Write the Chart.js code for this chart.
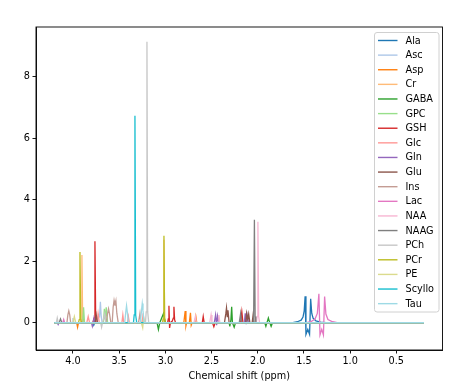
<!DOCTYPE html>
<html>
<head>
<meta charset="utf-8">
<script src="https://cdn.jsdelivr.net/npm/chart.js@4.4.1/dist/chart.umd.min.js"></script>
<style>
html,body{margin:0;padding:0;background:#fff;}
#wrap{width:474px;height:387px;}
</style>
</head>
<body>
<div id="wrap"><canvas id="c" width="474" height="387"></canvas></div>
<script>
// ---- data: [ppm, intensity] ----
const names = ['Ala','Asc','Asp','Cr','GABA','GPC','GSH','Glc','Gln','Glu','Ins','Lac','NAA','NAAG','PCh','PCr','PE','Scyllo','Tau'];
const xTicks = [0.5,1.0,1.5,2.0,2.5,3.0,3.5,4.0];
const yTicks = [0,2,4,6,8];

const Ala = [[4.2,0],[3.785,0],[3.775,-0.08],[3.765,0],[1.62,0],[1.57,0.03],[1.53,0.08],[1.51,0.18],[1.497,0.38],[1.487,0.86],[1.478,-0.38],[1.458,-0.22],[1.439,-0.38],[1.427,0.78],[1.415,0.3],[1.40,0.14],[1.37,0.06],[1.32,0.02],[1.26,0],[0.2,0]];
const Asc = [[4.2,0],[4.01,0],[4.0,0.15],[3.99,0],[3.735,0],[3.722,0.25],[3.712,0.2],[3.703,0.68],[3.695,0.25],[3.685,0],[0.2,0]];
const Asp = [[4.2,0],[3.96,0],[3.95,-0.15],[3.94,0],[3.90,0],[3.89,0.2],[3.88,0],[2.80,0],[2.785,0.38],[2.777,-0.1],[2.77,0],[2.74,0],[2.728,0.32],[2.72,-0.08],[2.71,0],[2.68,0],[2.67,0.2],[2.66,0],[0.2,0]];
const Cr = [[4.2,0],[3.92,0],[3.911,0.1],[3.903,2.2],[3.895,0.1],[3.885,0],[3.03,0],[3.022,0.12],[3.015,2.7],[3.008,0.12],[3.0,0],[0.2,0]];
const GABA = [[4.2,0],[3.09,0],[3.075,-0.22],[3.06,0],[3.02,0.3],[3.0,0],[2.31,0],[2.302,-0.12],[2.29,0.1],[2.282,0.52],[2.274,0],[2.255,-0.15],[2.24,0],[1.925,0],[1.912,-0.12],[1.9,0],[1.885,0.15],[1.87,0],[1.855,-0.12],[1.84,0],[0.2,0]];
const GPC = [[4.2,0],[3.895,0],[3.885,0.5],[3.875,0],[3.67,0],[3.66,0.45],[3.65,0.1],[3.64,0.5],[3.625,0],[0.2,0]];
const GSH = [[4.2,0],[3.785,0],[3.772,0.15],[3.762,2.65],[3.754,0.1],[3.745,0],[2.975,0],[2.968,0.12],[2.961,0.55],[2.954,-0.17],[2.945,0],[2.925,0.05],[2.914,0.15],[2.907,0.52],[2.90,0.1],[2.89,0],[2.60,0],[2.59,0.2],[2.58,0],[2.49,0],[2.475,-0.13],[2.46,0],[2.185,0],[2.172,0.35],[2.16,0],[0.2,0]];
const Glc = [[4.2,0],[3.85,0],[3.835,0.2],[3.82,0],[3.74,0],[3.728,0.3],[3.715,0],[3.47,0],[3.46,0.25],[3.45,0],[3.41,0],[3.40,0.2],[3.39,0],[3.25,0],[3.24,0.3],[3.23,0],[0.2,0]];
const Gln = [[4.2,0],[4.17,0],[4.16,-0.06],[4.15,0],[3.8,0],[3.79,-0.12],[3.78,0],[3.772,0.15],[3.76,0],[2.47,0],[2.456,0.25],[2.445,-0.08],[2.435,0.22],[2.42,0],[2.145,0],[2.135,0.3],[2.125,-0.05],[2.115,0.25],[2.1,0],[0.2,0]];
const Glu = [[4.2,0],[3.76,0],[3.748,0.25],[3.735,0],[2.36,0],[2.345,0.3],[2.338,0.48],[2.33,0.2],[2.322,0.4],[2.31,0],[2.13,0],[2.12,0.3],[2.108,0.1],[2.098,0.28],[2.085,0],[2.06,0],[2.05,0.25],[2.04,0],[0.2,0]];
const Ins = [[4.2,0],[4.065,0],[4.055,0.25],[4.045,0.38],[4.035,0.25],[4.025,0],[3.64,0],[3.625,0.3],[3.615,0.45],[3.605,0.3],[3.59,0],[3.575,0],[3.565,0.5],[3.555,0.72],[3.545,0.55],[3.535,0.7],[3.525,0.3],[3.51,0],[3.29,0],[3.275,0.3],[3.265,0],[0.2,0]];
const Lac = [[4.2,0],[4.11,0],[4.10,0.1],[4.09,0],[1.47,0],[1.42,0.04],[1.38,0.12],[1.355,0.3],[1.338,0.94],[1.326,-0.4],[1.307,-0.22],[1.289,-0.4],[1.276,0.85],[1.262,0.28],[1.24,0.1],[1.20,0.04],[1.14,0],[0.2,0]];
const NAA = [[4.2,0],[2.69,0],[2.675,0.2],[2.665,0],[2.52,0],[2.505,0.25],[2.495,0],[2.43,0],[2.42,0.25],[2.41,0],[2.015,0],[2.006,0.2],[1.998,3.28],[1.99,0.2],[1.98,0],[0.2,0]];
const NAAG = [[4.2,0],[4.15,0],[4.135,0.12],[4.12,0],[2.2,0],[2.185,0.3],[2.175,0],[2.05,0],[2.044,0.2],[2.036,3.35],[2.028,0.2],[2.02,0],[0.2,0]];
const PCh = [[4.2,0],[4.18,0],[4.17,0.15],[4.16,0],[3.70,0],[3.69,-0.15],[3.68,0],[3.655,0.3],[3.645,0],[3.215,0],[3.207,0.35],[3.199,9.14],[3.191,0.35],[3.18,0],[0.2,0]];
const PCr = [[4.2,0],[3.94,0],[3.932,0.1],[3.924,2.3],[3.916,0.1],[3.905,0],[3.03,0],[3.022,0.12],[3.015,2.83],[3.008,0.12],[3.0,0],[0.2,0]];
const PE = [[4.2,0],[4.0,0],[3.985,0.2],[3.97,0],[3.26,0],[3.245,-0.17],[3.235,0.15],[3.225,0],[0.2,0]];
const Scyllo = [[4.2,0],[3.345,0],[3.337,0.25],[3.329,6.73],[3.321,0.25],[3.31,0],[0.2,0]];
const Tau = [[4.2,0],[3.44,0],[3.428,0.35],[3.42,0.55],[3.412,0.35],[3.40,0],[3.27,0],[3.258,0.4],[3.25,0.62],[3.242,0.4],[3.23,0],[0.2,0]];

const series = [Ala,Asc,Asp,Cr,GABA,GPC,GSH,Glc,Gln,Glu,Ins,Lac,NAA,NAAG,PCh,PCr,PE,Scyllo,Tau];
const colors = ['#1f77b4','#aec7e8','#ff7f0e','#ffbb78','#2ca02c','#98df8a','#d62728','#ff9896','#9467bd','#8c564b','#c49c94','#e377c2','#f7b6d2','#7f7f7f','#c7c7c7','#bcbd22','#dbdb8d','#17becf','#9edae5'];

const FONT = 'DejaVu Sans';
const FS = 9.7;

// later series are drawn on top, as in the reference
const datasets = names.map((n,i)=>({
  label:n,
  data: series[i].map(p=>({x:p[0],y:p[1]})),
  borderColor: colors[i],
  backgroundColor: colors[i],
  borderWidth: 1.3,
  pointRadius: 0,
  tension: 0,
  fill: false,
  order: names.length - i
}));

const framePlugin = {
  id:'frameLegend',
  afterDraw(chart){
    const ctx = chart.ctx, a = chart.chartArea;
    ctx.save();
    ctx.strokeStyle = '#000';
    ctx.lineWidth = 0.9;
    ctx.strokeRect(a.left, a.top, a.right-a.left, a.bottom-a.top);
    // legend
    const bx=374.5, by=32.5, bw=64.5, bh=279.5, r=2.5;
    ctx.beginPath();
    ctx.moveTo(bx+r,by); ctx.lineTo(bx+bw-r,by); ctx.arcTo(bx+bw,by,bx+bw,by+r,r);
    ctx.lineTo(bx+bw,by+bh-r); ctx.arcTo(bx+bw,by+bh,bx+bw-r,by+bh,r);
    ctx.lineTo(bx+r,by+bh); ctx.arcTo(bx,by+bh,bx,by+bh-r,r);
    ctx.lineTo(bx,by+r); ctx.arcTo(bx,by,bx+r,by,r); ctx.closePath();
    ctx.fillStyle='rgba(255,255,255,0.8)'; ctx.fill();
    ctx.strokeStyle='#d0d0d0'; ctx.lineWidth=1; ctx.stroke();
    ctx.font = FS+'px "'+FONT+'"';
    ctx.textBaseline='middle'; ctx.textAlign='left';
    names.forEach((n,i)=>{
      const y = 40.5 + i*14.62;
      ctx.strokeStyle=colors[i]; ctx.lineWidth=1.4;
      ctx.beginPath(); ctx.moveTo(378,y); ctx.lineTo(397.5,y); ctx.stroke();
      ctx.fillStyle='#000';
      ctx.fillText(n, 405.5, y+0.5);
    });
    ctx.restore();
  }
};

new Chart(document.getElementById('c'), {
  type:'line',
  data:{datasets},
  options:{
    responsive:false,
    animation:false,
    events:[],
    layout:{padding:{left:0,right:31.5,top:27,bottom:0}},
    plugins:{legend:{display:false},tooltip:{enabled:false}},
    scales:{
      x:{
        type:'linear', reverse:true, min:0, max:4.4,
        afterBuildTicks(s){ s.ticks = xTicks.map(v=>({value:v})); },
        afterFit(s){ s.height = 37; },
        ticks:{color:'#000', font:{family:FONT,size:FS}, maxRotation:0, autoSkip:false, padding:2,
          callback:(v)=>Number(v).toFixed(1)},
        grid:{display:true, drawOnChartArea:false, drawTicks:true, tickLength:3.5, tickColor:'#000', tickWidth:0.9},
        border:{display:true, color:'#000', width:0.9},
        title:{display:true, text:'Chemical shift (ppm)', color:'#000', font:{family:FONT,size:FS}, padding:{top:0,bottom:5}}
      },
      y:{
        type:'linear', min:-0.89, max:9.62,
        afterBuildTicks(s){ s.ticks = yTicks.map(v=>({value:v})); },
        afterFit(s){ s.width = 36; },
        ticks:{color:'#000', font:{family:FONT,size:FS}, padding:2.5, autoSkip:false,
          callback:(v)=>String(v)},
        grid:{display:true, drawOnChartArea:false, drawTicks:true, tickLength:3.5, tickColor:'#000', tickWidth:0.9},
        border:{display:true, color:'#000', width:0.9}
      }
    }
  },
  plugins:[framePlugin]
});
</script>
</body>
</html>
